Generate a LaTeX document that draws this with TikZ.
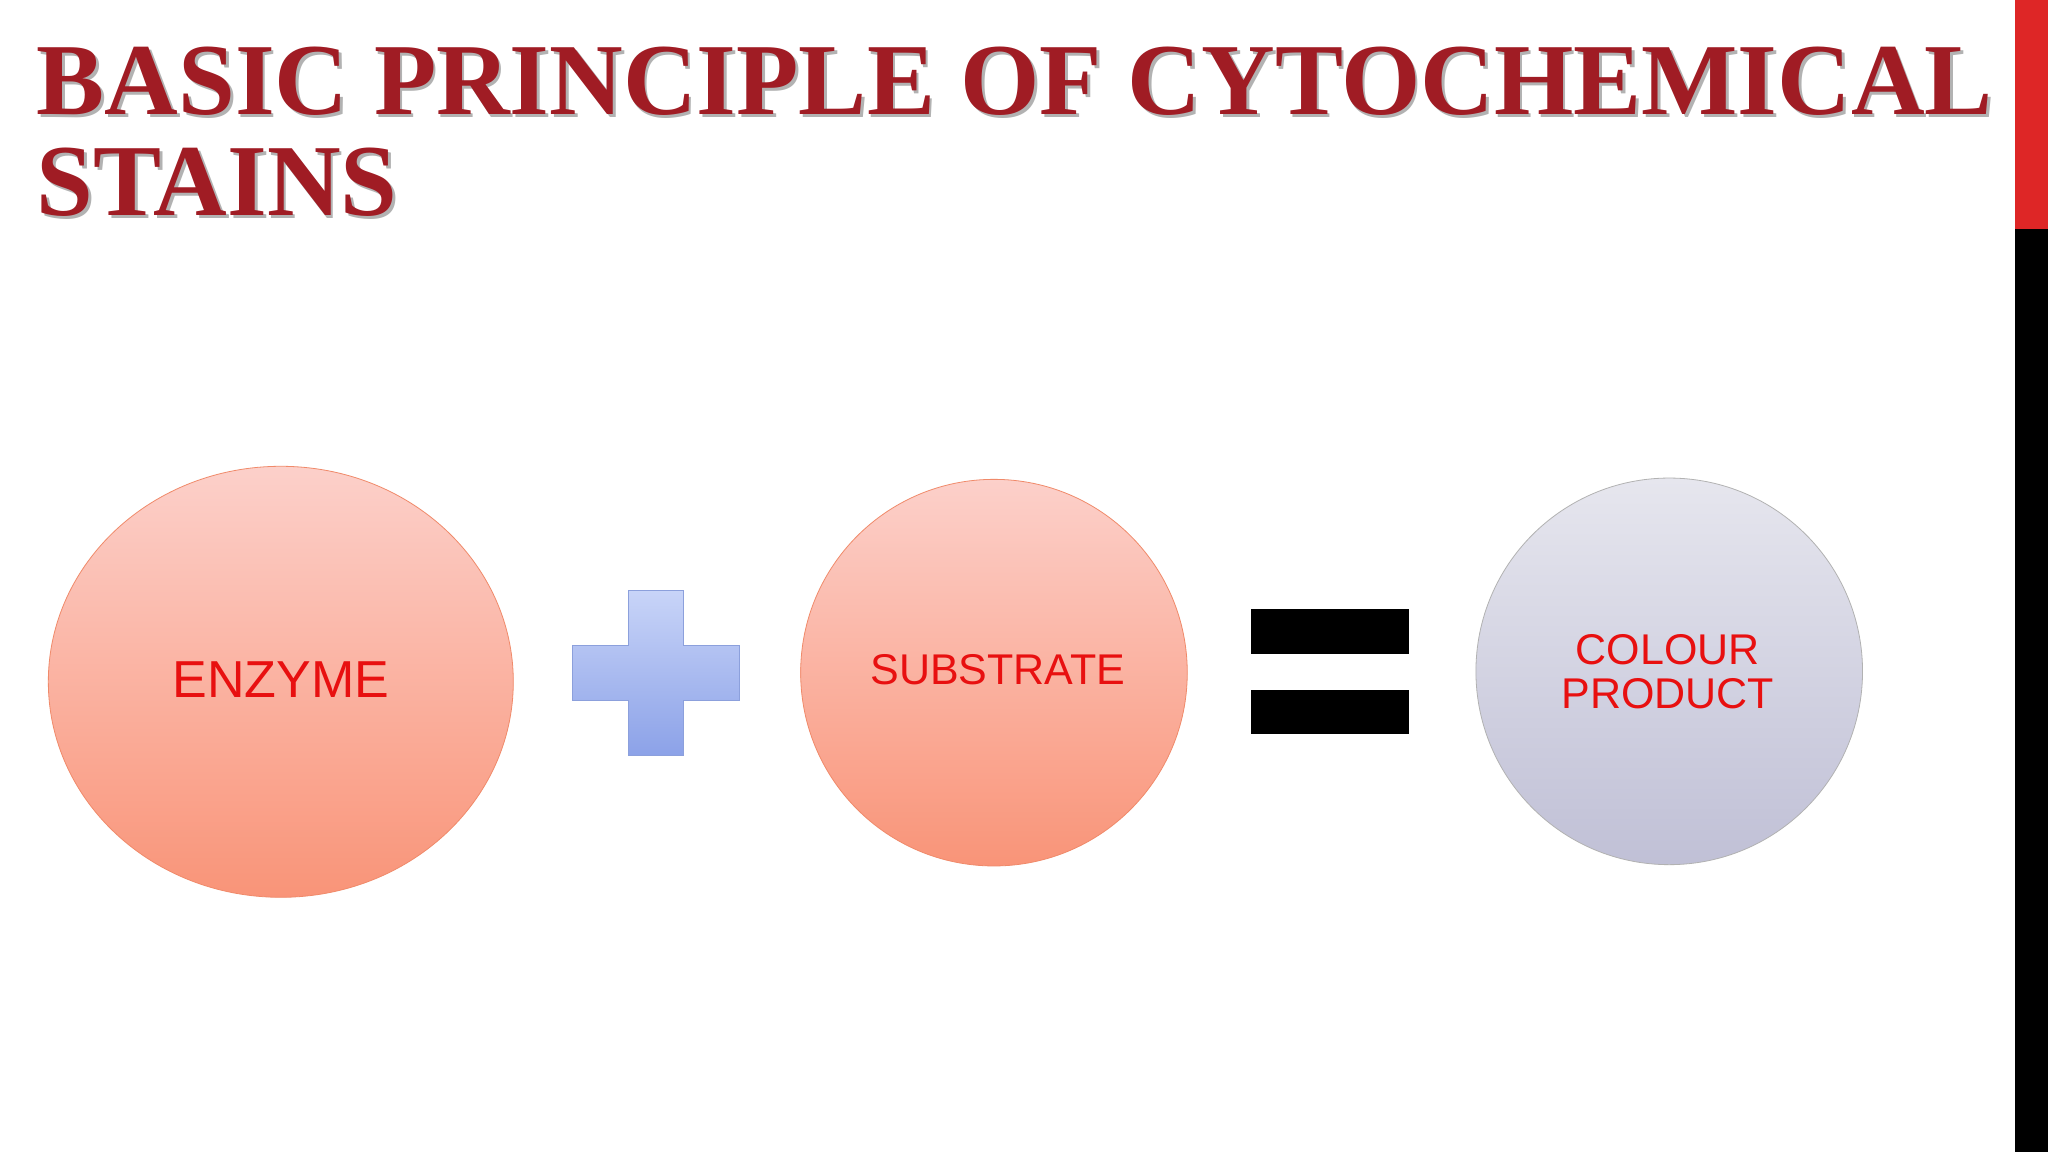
\documentclass[tikz,border=0pt]{standalone}
\usepackage{fontspec}
\setmainfont{Liberation Serif}
\newfontfamily\sansf{Liberation Sans}
\usetikzlibrary{shapes.geometric}
\definecolor{titlered}{HTML}{A01C24}
\definecolor{txtred}{HTML}{E81010}
\definecolor{barred}{HTML}{DE2626}
\definecolor{redtop}{HTML}{FCD0CA}
\definecolor{redbot}{HTML}{F99478}
\definecolor{redline}{HTML}{F08A6A}
\definecolor{graytop}{HTML}{E6E6EE}
\definecolor{graybot}{HTML}{C0C0D6}
\definecolor{plustop}{HTML}{C8D4F8}
\definecolor{plusbot}{HTML}{8CA2E8}
\definecolor{plusline}{HTML}{8CA0DC}
\tikzset{
  titletext/.style={anchor=base west,inner sep=0pt,font=\fontsize{102}{110}\selectfont\bfseries},
  lbl/.style={text=txtred,font=\sansf\fontsize{43}{44}\selectfont,align=center},
  redball/.style={draw=redline,line width=0.8pt,top color=redtop,bottom color=redbot},
  grayball/.style={draw=gray!60,line width=0.8pt,top color=graytop,bottom color=graybot}
}
\begin{document}
\begin{tikzpicture}[x=1.306pt,y=-1.306pt]
\useasboundingbox (0,0) rectangle (1568,882);
\fill[white] (0,0) rectangle (1568,882);
\fill[barred] (1543,0) rectangle (1568,175);
\fill[black] (1543,175) rectangle (1568,882);
% title with shadow
\node[titletext,text=gray!60] (t1s) at (30,90) {BASIC PRINCIPLE OF CYTOCHEMICAL};
\node[titletext,text=gray!60] (t2s) at (30,167) {STAINS};
\node[titletext,text=titlered] (t1) at (28,88) {BASIC PRINCIPLE OF CYTOCHEMICAL};
\node[titletext,text=titlered] (t2) at (28,165) {STAINS};
% enzyme
\node[redball,ellipse,minimum width=356*1.306pt,minimum height=330*1.306pt,inner sep=0pt] (enz) at (215,522) {};
\node[lbl,font=\sansf\fontsize{52}{52}\selectfont] (enzl) at (215,520) {ENZYME};
% plus
\shade[top color=plustop,bottom color=plusbot,draw=plusline,line width=0.6pt]
 (481,452) -- (523,452) -- (523,494) -- (566,494) -- (566,536) -- (523,536) -- (523,578) -- (481,578) -- (481,536) -- (438,536) -- (438,494) -- (481,494) -- cycle;
% substrate
\node[redball,circle,minimum size=296*1.306pt,inner sep=0pt] (sub) at (761,515) {};
\node[lbl] (subl) at (764,513) {SUBSTRATE};
% equals
\fill[black] (958,466) rectangle (1079,501);
\fill[black] (958,528) rectangle (1079,562);
% product
\node[grayball,circle,minimum size=296*1.306pt,inner sep=0pt] (prod) at (1278,514) {};
\node[lbl] (prodl) at (1277,514) {COLOUR\\PRODUCT};
\end{tikzpicture}
\end{document}
